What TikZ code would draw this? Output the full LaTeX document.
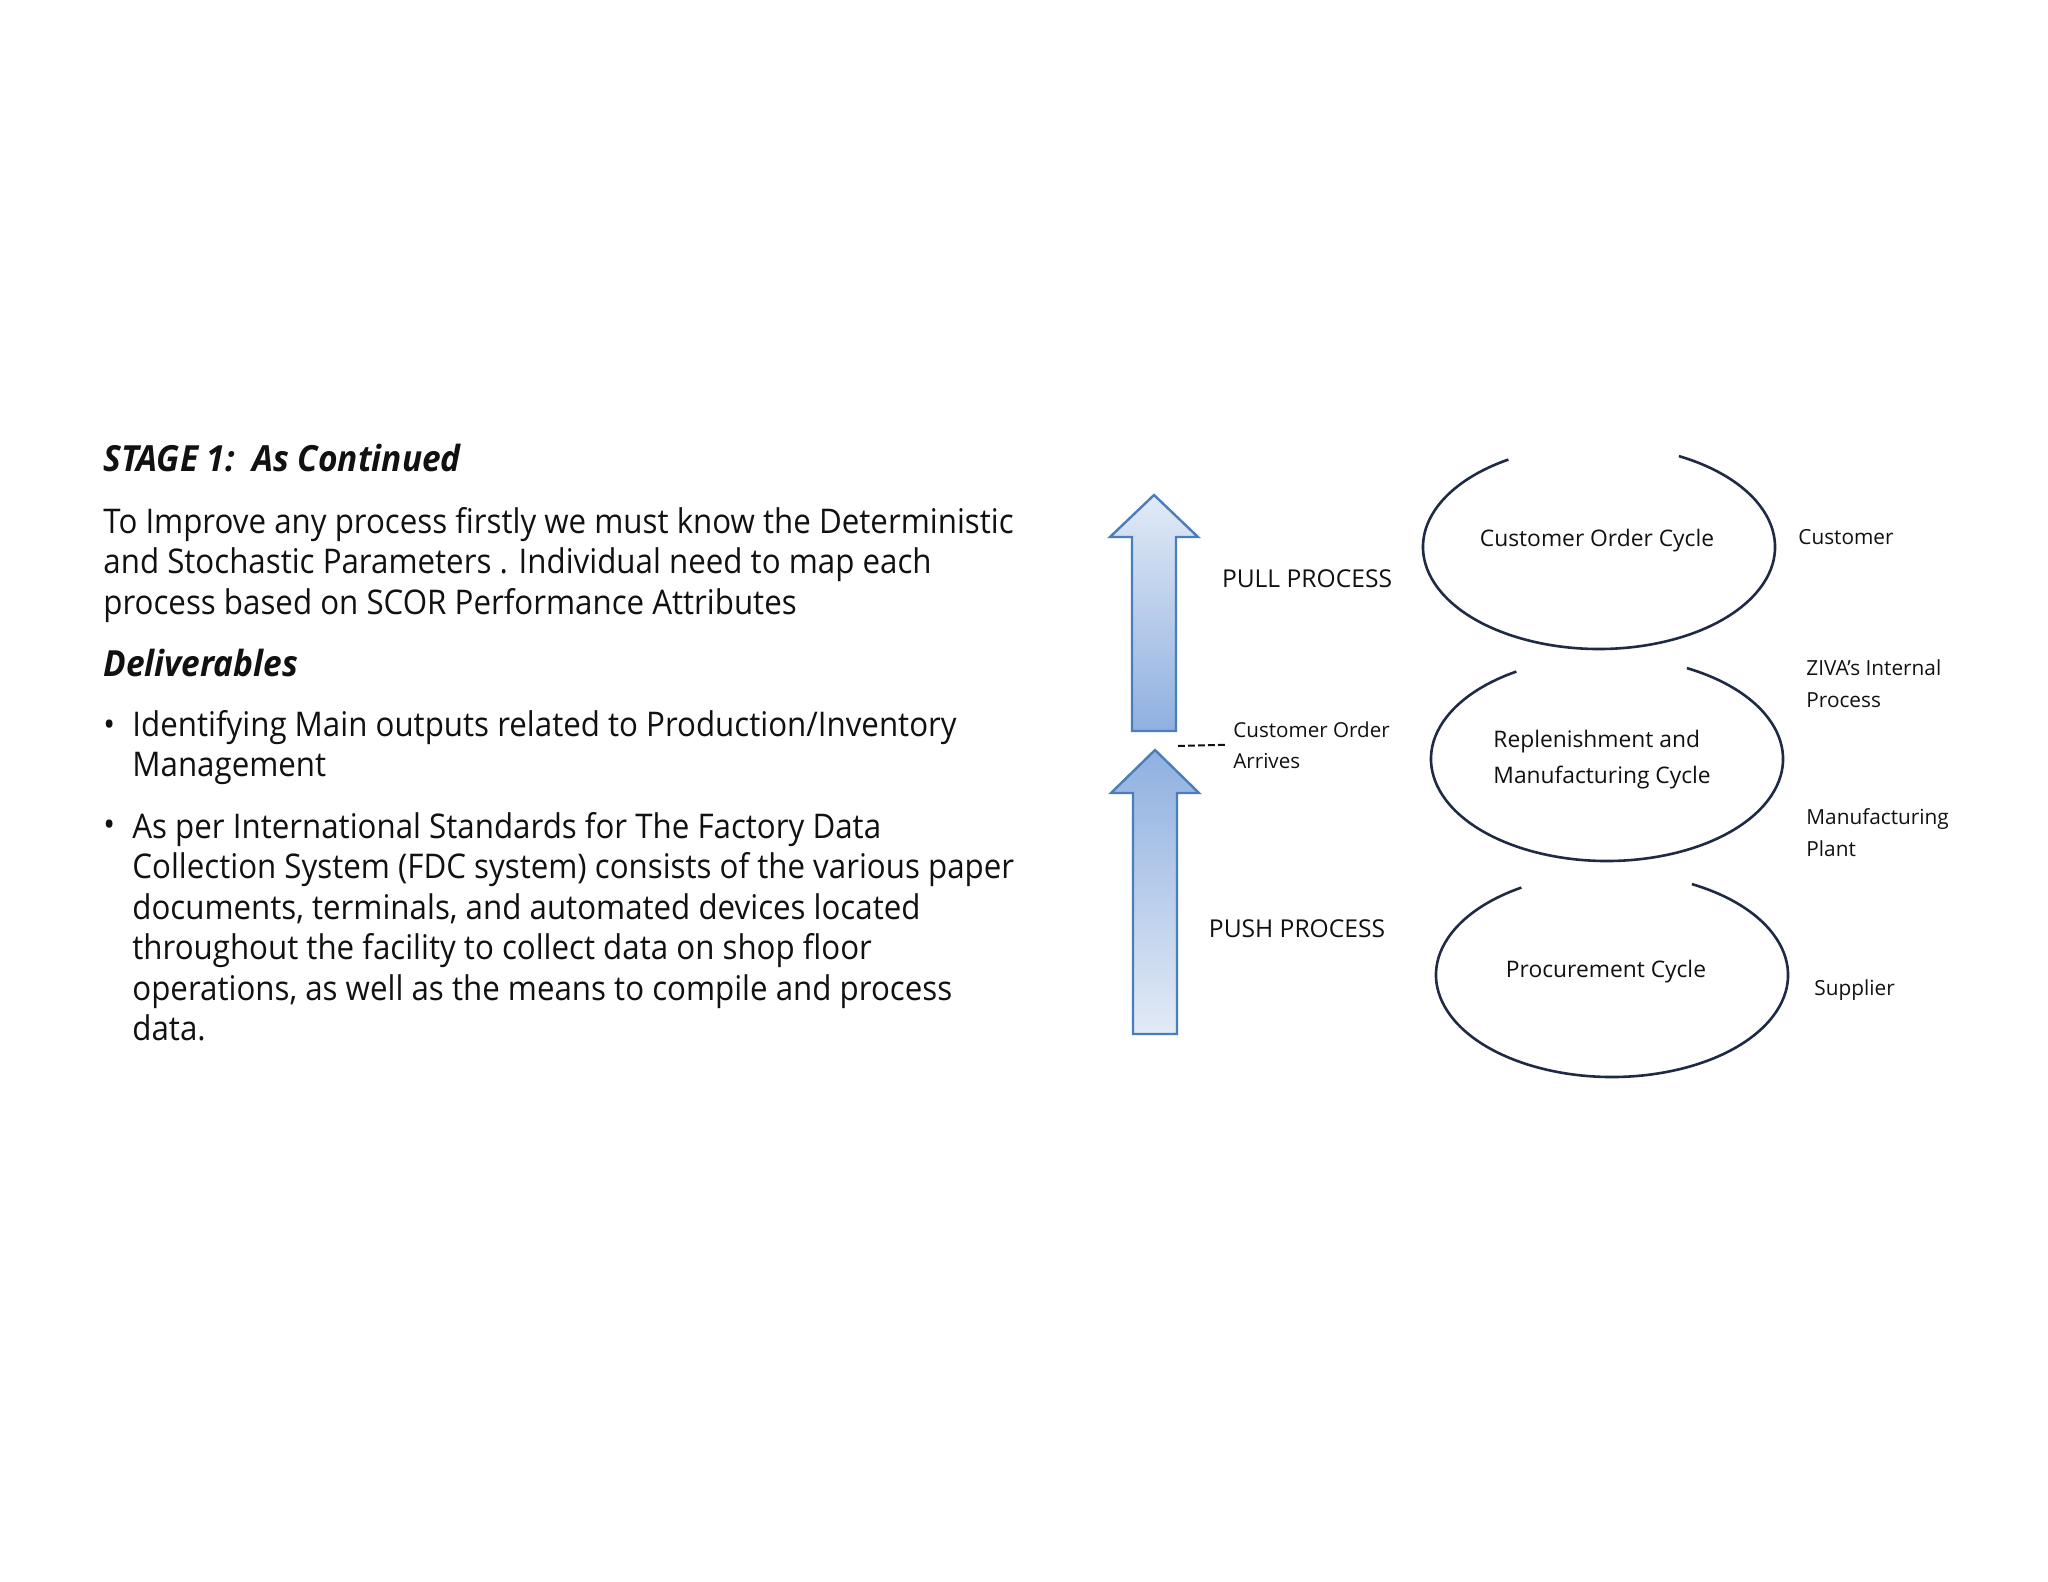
\documentclass[tikz,border=0pt]{standalone}
\usepackage{fontspec}
\setmainfont{Open Sans}
\newfontfamily\bodyfont[FakeStretch=0.92]{Open Sans}
\newfontfamily\headfont[FakeStretch=0.93]{Open Sans}
\newfontfamily\labfont{Open Sans}
\definecolor{arrowline}{HTML}{4A7EBB}
\definecolor{lightblue}{HTML}{E2EAF6}
\definecolor{darkblue}{HTML}{8FB0E0}
\definecolor{navy}{HTML}{1F2A44}
\definecolor{ink}{HTML}{111111}
\begin{document}
\begin{tikzpicture}[x=0.5pt,y=-0.5pt,
  txt/.style={inner sep=0pt, align=left, anchor=north west, text=ink},
  body/.style={txt, font={\bodyfont\fontsize{17}{20.25}\selectfont}},
  head/.style={txt, font={\headfont\fontsize{18}{20.25}\selectfont\bfseries\itshape}},
  bul/.style={inner sep=0pt, anchor=base west, text=ink, font={\bodyfont\fontsize{17}{20.25}\selectfont}},
  proc/.style={inner sep=0pt, anchor=center, text=ink, font={\labfont\fontsize{12.3}{16}\selectfont}},
  cyctext/.style={inner sep=0pt, text=ink, font={\labfont\fontsize{11.4}{18}\selectfont}},
  side/.style={txt, font={\labfont\fontsize{10.4}{16.25}\selectfont}},
  cyc/.style={draw=navy, line width=1.3pt},
  bigarrow/.style={draw=arrowline, line width=1.2pt, line join=miter},
  dashline/.style={draw=ink, line width=1pt, dash pattern=on 3.4pt off 1.6pt}
]
\path[fill=white] (0,0) rectangle (2048,1582);

% ---------- left text ----------
\node[head] (title) at (103,444) {STAGE 1:\ \ As Continued};
\node[body] (para) at (103,507) {To Improve any process firstly we must know the Deterministic\\
and Stochastic Parameters . Individual need to map each\\
process based on SCOR Performance Attributes};
\node[head] (deliv) at (103,649) {Deliverables};
\node[bul] (b1) at (103,736) {•};
\node[body] (item1) at (132,710) {Identifying Main outputs related to Production/Inventory\\
Management};
\node[bul] (b2) at (103,836) {•};
\node[body] (item2) at (132,812) {As per International Standards for The Factory Data\\
Collection System (FDC system) consists of the various paper\\
documents, terminals, and automated devices located\\
throughout the facility to collect data on shop floor\\
operations, as well as the means to compile and process\\
data.};

% ---------- arrows ----------
\path[bigarrow, top color=lightblue, bottom color=darkblue]
  (1154,495) -- (1198,537) -- (1176,537) -- (1176,731) -- (1132,731) -- (1132,537) -- (1110,537) -- cycle;
\path[bigarrow, top color=darkblue, bottom color=lightblue]
  (1155,750) -- (1199,793) -- (1177,793) -- (1177,1034) -- (1133,1034) -- (1133,793) -- (1111,793) -- cycle;

\node[proc] (pull) at (1307,579) {PULL PROCESS};
\node[proc] (push) at (1297,929) {PUSH PROCESS};

\node[side, inner xsep=4pt, font={\labfont\fontsize{10.3}{15.5}\selectfont}] (coa) at (1225,721) {Customer Order\\Arrives};
\coordinate (dashS) at (1178,746);
\draw[dashline] (dashS) -- (coa.west);

% ---------- cycles ----------
\coordinate (e1) at (1599,547);
\coordinate (e2) at (1607,759);
\coordinate (e3) at (1612,975);
\draw[cyc] (e1) ++(-63:176 and 102) arc[start angle=-63, end angle=239, x radius=176, y radius=102];
\draw[cyc] (e2) ++(-63:176 and 102) arc[start angle=-63, end angle=239, x radius=176, y radius=102];
\draw[cyc] (e3) ++(-63:176 and 102) arc[start angle=-63, end angle=239, x radius=176, y radius=102];

\node[cyctext, anchor=base] (c1) at (1597,546) {Customer Order Cycle};
\node[cyctext, align=left, anchor=north west] (c2) at (1493,730) {Replenishment and\\Manufacturing Cycle};
\node[cyctext, anchor=base] (c3) at (1606,977) {Procurement Cycle};

\node[side] (s1) at (1798,529) {Customer};
\node[side] (s2) at (1806,659) {ZIVA’s Internal\\Process};
\node[side] (s3) at (1806,808) {Manufacturing\\Plant};
\node[side] (s4) at (1814,979) {Supplier};
\end{tikzpicture}
\end{document}
